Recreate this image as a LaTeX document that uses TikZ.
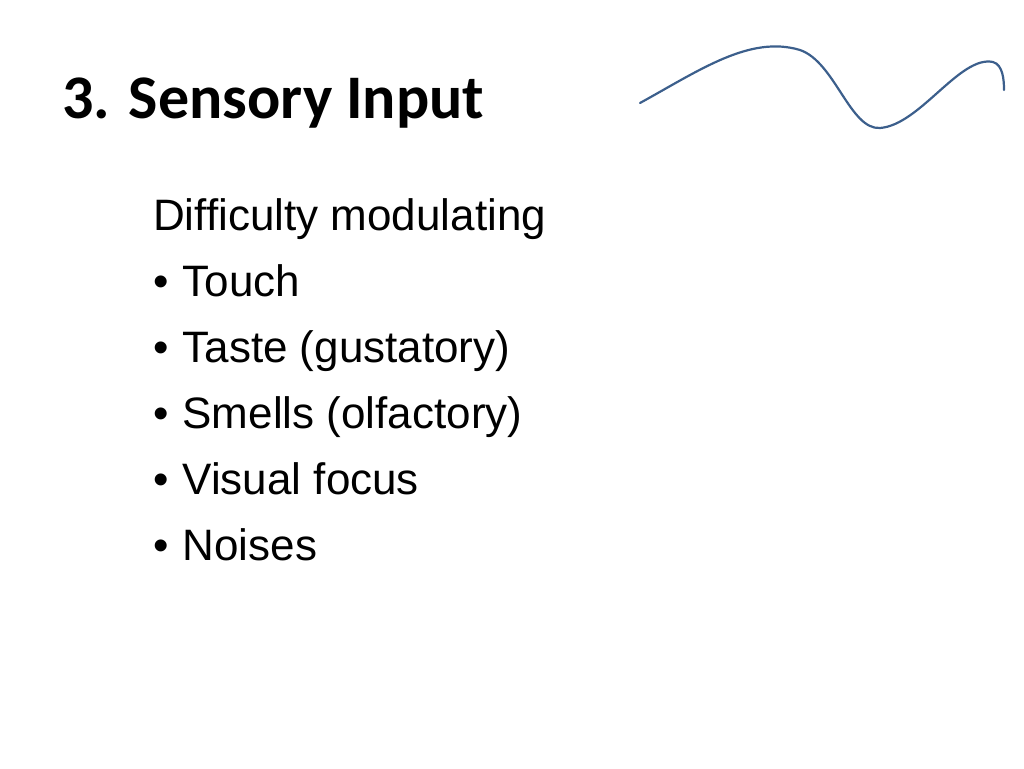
\documentclass[tikz,border=0pt]{standalone}
\usepackage{fontspec}
\setmainfont{Liberation Sans}
\newfontfamily\titlefont{Carlito}
\begin{document}
\begin{tikzpicture}[x=1pt,y=-1pt]
\useasboundingbox (0,0) rectangle (1024,768);
\tikzset{body/.style={anchor=base west,inner sep=0,font=\fontsize{44}{48}\selectfont}}
\node[anchor=base west,inner sep=0,font=\titlefont\bfseries\fontsize{62}{66}\selectfont] (title) at (62,118) {3. Sensory Input};
\node[body] (h) at (153,230) {Difficulty modulating};
\foreach \t [count=\i] in {Touch,Taste (gustatory),Smells (olfactory),Visual focus,Noises}{
  \node[body] (b\i) at (153,230+66*\i) {\textbullet\hspace{14pt}\t};
}
\draw[color={rgb,255:red,60;green,95;blue,140},line width=2.2pt,line cap=round]
 (640,103) .. controls (700,70) and (750,35) .. (800,50)
 .. controls (835,62) and (850,130) .. (880,128)
 .. controls (920,125) and (960,55) .. (993,62)
 .. controls (1003,65) and (1004,80) .. (1004,90);
\end{tikzpicture}
\end{document}
